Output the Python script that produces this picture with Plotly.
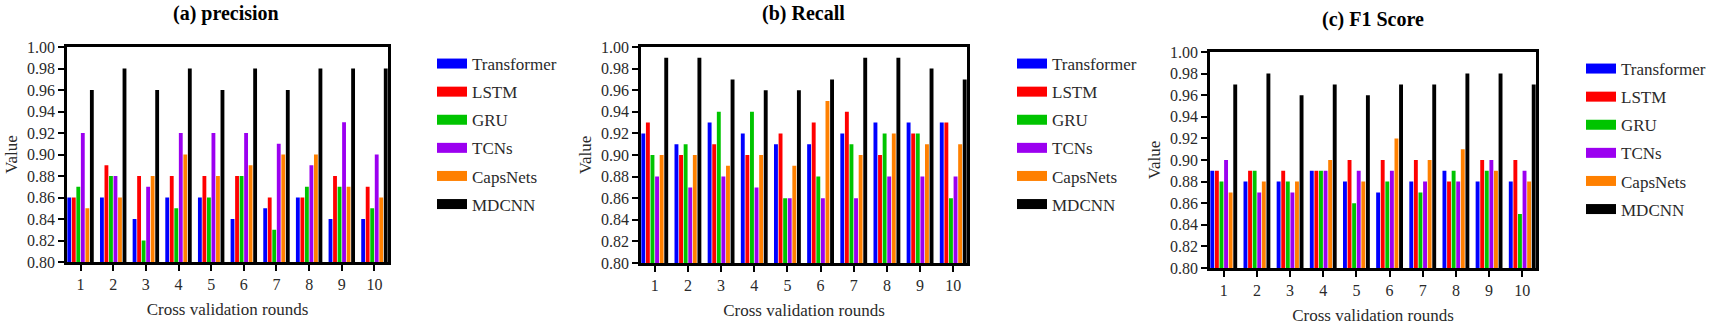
import plotly.graph_objects as go

rounds = [1, 2, 3, 4, 5, 6, 7, 8, 9, 10]
models = ["Transformer", "LSTM", "GRU", "TCNs", "CapsNets", "MDCNN"]
colors = ["#0000FF", "#FF0000", "#00C400", "#9B00F0", "#FF8000", "#000000"]

precision = {
    "Transformer": [0.86, 0.86, 0.84, 0.86, 0.86, 0.84, 0.85, 0.86, 0.84, 0.84],
    "LSTM":        [0.86, 0.89, 0.88, 0.88, 0.88, 0.88, 0.86, 0.86, 0.88, 0.87],
    "GRU":         [0.87, 0.88, 0.82, 0.85, 0.86, 0.88, 0.83, 0.87, 0.87, 0.85],
    "TCNs":        [0.92, 0.88, 0.87, 0.92, 0.92, 0.92, 0.91, 0.89, 0.93, 0.90],
    "CapsNets":    [0.85, 0.86, 0.88, 0.90, 0.88, 0.89, 0.90, 0.90, 0.87, 0.86],
    "MDCNN":       [0.96, 0.98, 0.96, 0.98, 0.96, 0.98, 0.96, 0.98, 0.98, 0.98],
}
recall = {
    "Transformer": [0.92, 0.91, 0.93, 0.92, 0.91, 0.91, 0.92, 0.93, 0.93, 0.93],
    "LSTM":        [0.93, 0.90, 0.91, 0.90, 0.92, 0.93, 0.94, 0.90, 0.92, 0.93],
    "GRU":         [0.90, 0.91, 0.94, 0.94, 0.86, 0.88, 0.91, 0.92, 0.92, 0.86],
    "TCNs":        [0.88, 0.87, 0.88, 0.87, 0.86, 0.86, 0.86, 0.88, 0.88, 0.88],
    "CapsNets":    [0.90, 0.90, 0.89, 0.90, 0.89, 0.95, 0.90, 0.92, 0.91, 0.91],
    "MDCNN":       [0.99, 0.99, 0.97, 0.96, 0.96, 0.97, 0.99, 0.99, 0.98, 0.97],
}
f1 = {
    "Transformer": [0.89, 0.88, 0.88, 0.89, 0.88, 0.87, 0.88, 0.89, 0.88, 0.88],
    "LSTM":        [0.89, 0.89, 0.89, 0.89, 0.90, 0.90, 0.90, 0.88, 0.90, 0.90],
    "GRU":         [0.88, 0.89, 0.88, 0.89, 0.86, 0.88, 0.87, 0.89, 0.89, 0.85],
    "TCNs":        [0.90, 0.87, 0.87, 0.89, 0.89, 0.89, 0.88, 0.88, 0.90, 0.89],
    "CapsNets":    [0.87, 0.88, 0.88, 0.90, 0.88, 0.92, 0.90, 0.91, 0.89, 0.88],
    "MDCNN":       [0.97, 0.98, 0.96, 0.97, 0.96, 0.97, 0.97, 0.98, 0.98, 0.97],
}
ytick_vals = [0.80, 0.82, 0.84, 0.86, 0.88, 0.90, 0.92, 0.94, 0.96, 0.98, 1.00]

panels = [
    ("(a) precision", precision),
    ("(b) Recall", recall),
    ("(c) F1 Score", f1),
]

W, H = 1718, 329
# pixel boxes: (left, right, top, bottom)
boxes = [(67, 388, 47, 262), (641, 967, 47, 263), (1210, 1536, 52, 268)]
legend_pos = [(432, 46), (1012, 46), (1581, 51)]
title_pos = [(226, 14), (803, 14), (1373, 19)]

FONT = "Liberation Serif"
TXT = "#2a2a2a"
fig = go.Figure()

for p, (title, data) in enumerate(panels):
    sfx = "" if p == 0 else str(p + 1)
    leg = "legend" if p == 0 else f"legend{p + 1}"
    for m, c in zip(models, colors):
        fig.add_trace(go.Bar(
            x=rounds, y=data[m], name=m, marker=dict(color=c, line=dict(width=0)),
            xaxis="x" + sfx, yaxis="y" + sfx, showlegend=False,
            legendgroup=f"{p}{m}", offsetgroup=m,
        ))
        # legend entry (rectangular swatch like the reference)
        fig.add_trace(go.Scatter(
            x=[None], y=[None], mode="lines", name=m,
            line=dict(color=c, width=11), xaxis="x" + sfx, yaxis="y" + sfx,
            legend=leg, legendgroup=f"{p}{m}", hoverinfo="skip",
        ))
    l, r, t, b = boxes[p]
    axis_common = dict(showline=True, linecolor="black", linewidth=2.5, mirror=True,
                       ticks="outside", tickwidth=2, ticklen=6, tickcolor="black",
                       showgrid=False, zeroline=False,
                       tickfont=dict(family=FONT, size=16, color=TXT))
    fig.update_layout(**{
        "xaxis" + sfx: dict(domain=[l / W, r / W], anchor="y" + sfx,
                            range=[0.585, 10.415], tickvals=rounds,
                            title=dict(text="Cross validation rounds", standoff=12,
                                       font=dict(family=FONT, size=17, color=TXT)),
                            **axis_common),
        "yaxis" + sfx: dict(domain=[1 - b / H, 1 - t / H], anchor="x" + sfx,
                            range=[0.80, 1.00], tickvals=ytick_vals, tickformat=".2f",
                            title=dict(text="Value", standoff=6,
                                       font=dict(family=FONT, size=17, color=TXT)),
                            **axis_common),
        leg: dict(x=legend_pos[p][0] / W, y=1 - legend_pos[p][1] / H,
                  xanchor="left", yanchor="top", bgcolor="rgba(0,0,0,0)",
                  font=dict(family=FONT, size=17, color=TXT),
                  tracegroupgap=3, itemwidth=30, itemclick=False),
    })
    fig.add_annotation(text=f"<b>{title}</b>", x=title_pos[p][0] / W, y=1 - title_pos[p][1] / H,
                       xref="paper", yref="paper", showarrow=False,
                       font=dict(family=FONT, size=20, color="black"),
                       xanchor="center", yanchor="middle")

fig.update_layout(width=W, height=H, margin=dict(l=0, r=0, t=0, b=0, autoexpand=False),
                  paper_bgcolor="white", plot_bgcolor="white",
                  barmode="group", bargap=0.17, bargroupgap=0.15, showlegend=True)

fig.write_html("out.html", config={"displayModeBar": False},
               post_script="document.body.style.margin='0px';")
